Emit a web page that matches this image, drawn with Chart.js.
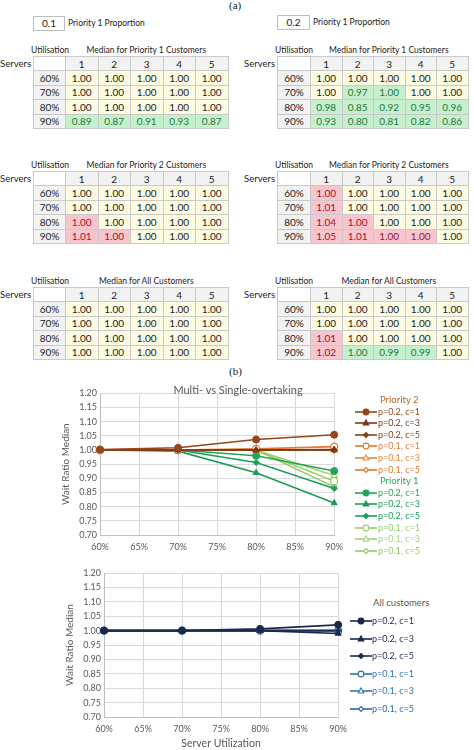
<!DOCTYPE html>
<html>
<head>
<meta charset="utf-8">
<script src="https://cdn.jsdelivr.net/npm/chart.js@4.4.1/dist/chart.umd.min.js"></script>
<style>
  body { margin: 0; background: #fff; font-family: Lato, "Open Sans", sans-serif; }
  #page { position: relative; width: 474px; height: 750px; overflow: hidden; }
  .txt { position: absolute; white-space: nowrap; color: #222; line-height: 10px; }
  .serif { font-family: "Liberation Serif", "DejaVu Serif", serif; font-size: 11px; }
  .box { position: absolute; border: 1px solid #bdbdbd; text-align: center; font-size: 10px; line-height: 13px; color: #222; box-sizing: border-box; }
  table.grid { position: absolute; border-collapse: collapse; table-layout: fixed; font-size: 10px; }
  table.grid td { border: 1px solid #c9c9c9; padding: 0; text-align: center; height: 13.4px; line-height: 12px; color: #222; }
  table.grid td.hd { background: #f2f2f2; }
  table.grid td.blank { background: #fff; }
  table.grid td.eq { background: #fdfbe1; }
  table.grid td.lo { background: #c6efce; color: #1f7a3a; }
  table.grid td.hi { background: #f8c4cd; color: #a3132a; }
  canvas { position: absolute; }
  .leg { position: absolute; white-space: nowrap; font-size: 9px; line-height: 10px; height: 10px; }
  .leg svg { vertical-align: top; }
  .leg span { position: absolute; top: 0; }
</style>
</head>
<body>
<div id="page">
  <canvas id="chart1"></canvas>
  <canvas id="chart2"></canvas>
</div>
<script>
// rows = utilisation, columns = number of servers
const utilisation = [60, 70, 80, 90];
const utilLabels = ['60%', '70%', '80%', '90%'];
const servers = [1, 2, 3, 4, 5];
const xTicks = [60, 65, 70, 75, 80, 85, 90];
const yTicks = [0.70, 0.75, 0.80, 0.85, 0.90, 0.95, 1.00, 1.05, 1.10, 1.15, 1.20];

// Median wait ratio, priority 1 customers
const p1_01 = [
  [1, 1, 1, 1, 1],
  [1, 1, 1, 1, 1],
  [1, 1, 1, 1, 1],
  [0.89, 0.87, 0.91, 0.93, 0.87]
];
const p1_02 = [
  [1, 1, 1, 1, 1],
  [1, 0.97, 0.996, 1, 1],
  [0.98, 0.85, 0.92, 0.95, 0.956],
  [0.926, 0.80, 0.813, 0.82, 0.864]
];
// priority 2 customers
const p2_01 = [
  [1, 1, 1, 1, 1],
  [1, 1, 1, 1, 1],
  [1.004, 1, 1, 1, 1],
  [1.012, 1.003, 1, 1, 1]
];
const p2_02 = [
  [1.002, 1, 1, 1, 1],
  [1.008, 1, 1, 1, 1],
  [1.037, 1.003, 1, 1, 1],
  [1.054, 1.01, 1.002, 1.002, 1]
];
// all customers
const all_01 = [
  [1, 1, 1, 1, 1],
  [1, 1, 1, 1, 1],
  [1, 1, 1, 1, 1],
  [1, 1, 1, 1, 1]
];
const all_02 = [
  [1, 1, 1, 1, 1],
  [1, 1, 1, 1, 1],
  [1.006, 1, 1, 1, 1],
  [1.02, 0.998, 0.99, 0.99, 1]
];

const page = document.getElementById('page');

function addText(html, css, cls) {
  const d = document.createElement('div');
  d.className = cls || 'txt';
  d.innerHTML = html;
  Object.assign(d.style, css);
  page.appendChild(d);
  return d;
}

// table with its labels around it
function makeTable(left, top, firstW, colW, title, values) {
  const t = document.createElement('table');
  t.className = 'grid';
  t.style.left = left + 'px';
  t.style.top = top + 'px';
  t.style.width = (firstW + colW * 5) + 'px';
  let html = '<colgroup><col style="width:' + firstW + 'px">';
  servers.forEach(() => { html += '<col style="width:' + colW + 'px">'; });
  html += '</colgroup><tr><td class="blank"></td>';
  servers.forEach(s => { html += '<td class="hd">' + s + '</td>'; });
  html += '</tr>';
  values.forEach((row, i) => {
    html += '<tr><td class="hd">' + utilLabels[i] + '</td>';
    row.forEach(v => {
      const cls = v > 1 ? 'hi' : (v < 1 ? 'lo' : 'eq');
      html += '<td class="' + cls + '">' + v.toFixed(2) + '</td>';
    });
    html += '</tr>';
  });
  t.innerHTML = html;
  page.appendChild(t);

  addText('Utilisation', { left: (left - 2) + 'px', top: (top - 11) + 'px', fontSize: '8.5px' });
  addText(title, { left: (left + firstW) + 'px', top: (top - 11) + 'px', width: (colW * 5) + 'px', textAlign: 'center', fontSize: '8.5px' });
  addText('Servers', { left: (left - 62) + 'px', width: '60px', textAlign: 'right', top: (top + 3) + 'px', fontSize: '9.5px' });
}

addText('(a)', { left: '229px', top: '0px' }, 'txt serif');
addText('(b)', { left: '229px', top: '366px' }, 'txt serif');

addText('0.1', { left: '33px', top: '16px', width: '32px', height: '15px' }, 'box');
addText('Priority 1 Proportion', { left: '68px', top: '18px', fontSize: '8.5px' });
addText('0.2', { left: '277px', top: '15px', width: '33px', height: '15px' }, 'box');
addText('Priority 1 Proportion', { left: '313px', top: '17px', fontSize: '8.5px' });

makeTable(33, 56, 32, 32.5, 'Median for Priority 1 Customers', p1_01);
makeTable(277, 56, 33, 31.5, 'Median for Priority 1 Customers', p1_02);
makeTable(33, 171, 32, 32.5, 'Median for Priority 2 Customers', p2_01);
makeTable(277, 171, 33, 31.5, 'Median for Priority 2 Customers', p2_02);
makeTable(33, 287, 32, 32.5, 'Median for All Customers', all_01);
makeTable(277, 287, 33, 31.5, 'Median for All Customers', all_02);

// a line series is one server column of a table
const col = (m, c) => m.map(r => r[c - 1]);

const chart1Series = [
  { label: 'p=0.2, c=1', values: col(p2_02, 1), color: '#95461c', shape: 'circle', hollow: false },
  { label: 'p=0.2, c=3', values: col(p2_02, 3), color: '#7b3813', shape: 'triangle', hollow: false },
  { label: 'p=0.2, c=5', values: col(p2_02, 5), color: '#86411b', shape: 'rectRot', hollow: false },
  { label: 'p=0.1, c=1', values: col(p2_01, 1), color: '#df7a32', shape: 'circle', hollow: true },
  { label: 'p=0.1, c=3', values: col(p2_01, 3), color: '#e3873f', shape: 'triangle', hollow: true },
  { label: 'p=0.1, c=5', values: col(p2_01, 5), color: '#dc7a2c', shape: 'rectRot', hollow: true },
  { label: 'p=0.2, c=1', values: col(p1_02, 1), color: '#21a653', shape: 'circle', hollow: false },
  { label: 'p=0.2, c=3', values: col(p1_02, 3), color: '#1d9a57', shape: 'triangle', hollow: false },
  { label: 'p=0.2, c=5', values: col(p1_02, 5), color: '#18a05b', shape: 'rectRot', hollow: false },
  { label: 'p=0.1, c=1', values: col(p1_01, 1), color: '#9acd6a', shape: 'circle', hollow: true },
  { label: 'p=0.1, c=3', values: col(p1_01, 3), color: '#a6d27a', shape: 'triangle', hollow: true },
  { label: 'p=0.1, c=5', values: col(p1_01, 5), color: '#96c864', shape: 'rectRot', hollow: true }
];

const chart2Series = [
  { label: 'p=0.2, c=1', values: col(all_02, 1), color: '#1b2a4c', shape: 'circle', hollow: false },
  { label: 'p=0.2, c=3', values: col(all_02, 3), color: '#1a2850', shape: 'triangle', hollow: false },
  { label: 'p=0.2, c=5', values: col(all_02, 5), color: '#1d2d55', shape: 'rectRot', hollow: false },
  { label: 'p=0.1, c=1', values: col(all_01, 1), color: '#2e6fad', shape: 'circle', hollow: true },
  { label: 'p=0.1, c=3', values: col(all_01, 3), color: '#3274b2', shape: 'triangle', hollow: true },
  { label: 'p=0.1, c=5', values: col(all_01, 5), color: '#2c6aa8', shape: 'rectRot', hollow: true }
];

function makeDataset(s) {
  return {
    label: s.label,
    data: utilisation.map((u, i) => ({ x: u, y: s.values[i] })),
    borderColor: s.color,
    backgroundColor: s.color,
    borderWidth: 1.6,
    pointStyle: s.shape,
    pointRadius: s.shape === 'rectRot' ? 3 : 3.5,
    pointBackgroundColor: s.hollow ? '#fff' : s.color,
    pointBorderColor: s.color,
    pointBorderWidth: s.hollow ? 1.3 : 1,
    tension: 0,
    clip: false
  };
}

Chart.defaults.font.family = "Lato, 'Open Sans', sans-serif";
Chart.defaults.color = '#595959';
Chart.defaults.animation = false;

function makeChart(id, box, series, pad, xTitle, xHeight) {
  const cv = document.getElementById(id);
  cv.style.left = box.left + 'px';
  cv.style.top = box.top + 'px';
  cv.width = box.width;
  cv.height = box.height;
  return new Chart(cv.getContext('2d'), {
    type: 'line',
    data: { datasets: series.map(makeDataset) },
    options: {
      responsive: false,
      layout: { padding: pad },
      plugins: { legend: { display: false }, tooltip: { enabled: false } },
      scales: {
        x: {
          type: 'linear', min: 60, max: 90,
          afterBuildTicks: sc => { sc.ticks = xTicks.map(v => ({ value: v })); },
          afterFit: sc => { sc.height = xHeight; },
          ticks: { callback: v => v + '%', font: { size: 9 }, padding: 7, autoSkip: false, maxRotation: 0 },
          grid: { color: '#d9d9d9', drawTicks: false },
          border: { color: '#bfbfbf' },
          title: xTitle ? { display: true, text: xTitle, font: { size: 10.5 }, padding: { top: 2, bottom: 0 } } : { display: false }
        },
        y: {
          min: 0.7, max: 1.2,
          afterBuildTicks: sc => { sc.ticks = yTicks.map(v => ({ value: v })); },
          afterFit: sc => { sc.width = 44; },
          ticks: { callback: v => v.toFixed(2), font: { size: 9 }, padding: 3, autoSkip: false },
          grid: { color: '#d9d9d9', drawTicks: false },
          border: { color: '#bfbfbf' },
          title: { display: true, text: 'Wait Ratio Median', font: { size: 10 }, padding: { top: 4, bottom: 0 } }
        }
      }
    }
  });
}

makeChart('chart1', { left: 0, top: 385, width: 350, height: 172 }, chart1Series,
  { left: 56, right: 12, top: 8, bottom: 4 }, null, 18);
makeChart('chart2', { left: 0, top: 562, width: 354, height: 188 }, chart2Series,
  { left: 60, right: 12, top: 11, bottom: 0 }, 'Server Utilization', 33);

addText('Multi- vs Single-overtaking', { left: '140px', width: '196px', textAlign: 'center', top: '384px', fontSize: '11px', color: '#595959', lineHeight: '12px' });

// html legends
function markerSvg(s) {
  const fill = s.hollow ? '#fff' : s.color;
  const st = 'fill="' + fill + '" stroke="' + s.color + '" stroke-width="1.1"';
  let m;
  if (s.shape === 'circle') m = '<circle cx="11" cy="5" r="2.9" ' + st + '/>';
  else if (s.shape === 'triangle') m = '<polygon points="11,2 13.8,7 8.2,7" ' + st + '/>';
  else m = '<polygon points="11,2.5 13.5,5 11,7.5 8.5,5" ' + st + '/>';
  return '<svg width="22" height="10"><line x1="0" y1="5" x2="22" y2="5" stroke="' + s.color + '" stroke-width="1.6"/>' + m + '</svg>';
}

function legendRow(s, left, cy, textGap) {
  const d = document.createElement('div');
  d.className = 'leg';
  d.style.left = left + 'px';
  d.style.top = (cy - 5) + 'px';
  d.innerHTML = markerSvg(s) + '<span style="left:' + textGap + 'px;color:' + s.color + '">' + s.label + '</span>';
  page.appendChild(d);
}

const step1 = 11.6;
addText('Priority 2', { left: '380px', top: '395px', fontSize: '9.5px', color: '#b4632b' });
chart1Series.slice(0, 6).forEach((s, i) => legendRow(s, 355, 400 + (i + 1) * step1, 23));
addText('Priority 1', { left: '380px', top: (400 + 7 * step1 - 5) + 'px', fontSize: '9.5px', color: '#2aa45a' });
chart1Series.slice(6).forEach((s, i) => legendRow(s, 355, 400 + (i + 8) * step1, 23));

addText('All customers', { left: '373px', top: '598px', fontSize: '9.5px', color: '#595959' });
chart2Series.forEach((s, i) => legendRow(s, 350, 621 + i * 17.6, 22));
</script>
</body>
</html>
